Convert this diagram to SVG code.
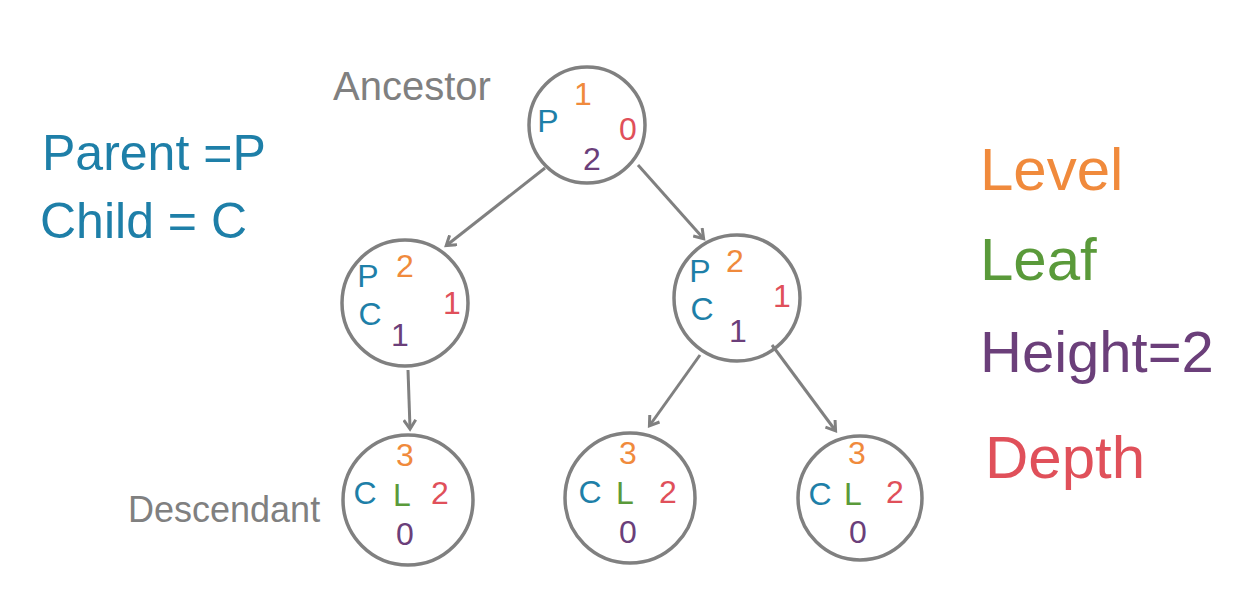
<svg xmlns="http://www.w3.org/2000/svg" width="1237" height="610" viewBox="0 0 1237 610">
<style>
text{font-family:"Liberation Sans",sans-serif;}
.n{fill:none;stroke:#808080;stroke-width:3.5}
.c{stroke:#808080;stroke-width:3;fill:none;marker-end:url(#a)}
.b{fill:#1e7fa8}.o{fill:#f08a3c}.p{fill:#6b3f7a}.r{fill:#e0505a}.g{fill:#5a9a3a}.k{fill:#808080}
.t{font-size:32px;text-anchor:middle}
</style>
<defs><marker id="a" markerWidth="14" markerHeight="14" refX="10" refY="7" orient="auto" markerUnits="userSpaceOnUse"><path d="M2,1 L11,7 L2,13" fill="none" stroke="#808080" stroke-width="3"/></marker></defs>
<rect width="1237" height="610" fill="#fff"/>
<g id="connectors">
<path class="c" d="M545,168 L447,245"/>
<path class="c" d="M638,165 L703,238"/>
<path class="c" d="M408,370 L410,428"/>
<path class="c" d="M700,355 L650,425"/>
<path class="c" d="M772,345 L835,430"/>
</g>
<g id="root"><circle class="n" cx="587" cy="125" r="58"/>
<text class="t o" x="583" y="105">1</text><text class="t b" x="548" y="132">P</text><text class="t r" x="628" y="140">0</text><text class="t p" x="592" y="170">2</text></g>
<g id="midL"><circle class="n" cx="405" cy="303" r="63"/>
<text class="t b" x="368" y="287">P</text><text class="t b" x="370" y="325">C</text><text class="t o" x="405" y="277">2</text><text class="t r" x="452" y="314">1</text><text class="t p" x="400" y="346">1</text></g>
<g id="midR"><circle class="n" cx="737" cy="298" r="63"/>
<text class="t b" x="700" y="282">P</text><text class="t b" x="702" y="320">C</text><text class="t o" x="735" y="272">2</text><text class="t r" x="782" y="307">1</text><text class="t p" x="738" y="342">1</text></g>
<g id="botL"><circle class="n" cx="408" cy="500" r="65"/>
<text class="t o" x="405" y="466">3</text><text class="t b" x="365" y="504">C</text><text class="t g" x="402" y="506">L</text><text class="t r" x="440" y="504">2</text><text class="t p" x="405" y="545">0</text></g>
<g id="botM"><circle class="n" cx="630" cy="498" r="65"/>
<text class="t o" x="628" y="464">3</text><text class="t b" x="590" y="503">C</text><text class="t g" x="625" y="504">L</text><text class="t r" x="668" y="503">2</text><text class="t p" x="628" y="543">0</text></g>
<g id="botR"><circle class="n" cx="860" cy="498" r="62"/>
<text class="t o" x="857" y="464">3</text><text class="t b" x="820" y="505">C</text><text class="t g" x="853" y="505">L</text><text class="t r" x="895" y="503">2</text><text class="t p" x="858" y="543">0</text></g>
<g id="labels">
<text class="k" x="333" y="100" font-size="40">Ancestor</text>
<text class="k" x="128" y="522" font-size="36">Descendant</text>
<text class="b" x="42" y="170" font-size="50">Parent =P</text>
<text class="b" x="40" y="238" font-size="50">Child = C</text>
<text class="o" x="980" y="190" font-size="60">Level</text>
<text class="g" x="980" y="280" font-size="60">Leaf</text>
<text class="p" x="980" y="372" font-size="58">Height=2</text>
<text class="r" x="985" y="478" font-size="60">Depth</text>
</g>
</svg>
